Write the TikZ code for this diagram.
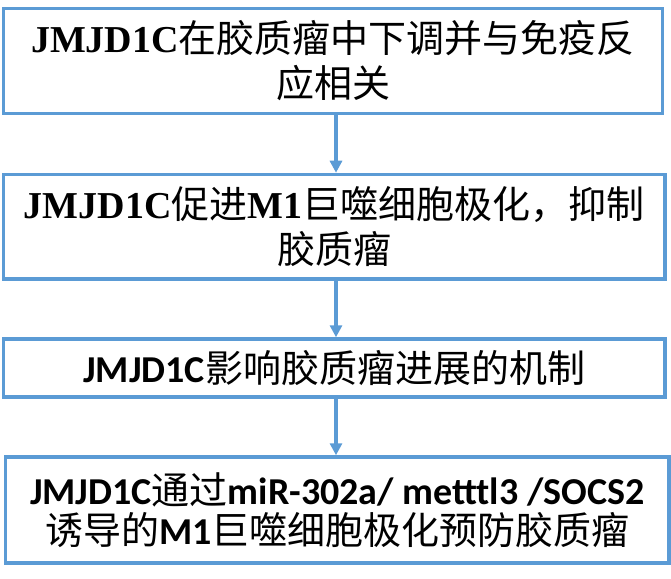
\documentclass[tikz,border=0pt]{standalone}
\usepackage{fontspec}
\usetikzlibrary{arrows.meta}
\newfontfamily\cjkf{Noto Sans CJK SC}
\newfontfamily\tmsf{Liberation Serif}
\newfontfamily\calf{Carlito}
\newcommand{\TB}[1]{{\tmsf\bfseries #1}}
\newcommand{\CB}[1]{{\calf\bfseries #1}}
\definecolor{boxblue}{RGB}{91,155,213}
\tikzset{
  flowbox/.style={draw=boxblue, line width=3.5bp, fill=white, inner sep=0pt,
    align=center, font=\cjkf\fontsize{38bp}{45bp}\selectfont},
  flowarrow/.style={draw=boxblue, line width=3.2bp, -{Triangle[length=12bp,width=12bp]}}
}
\begin{document}
\begin{tikzpicture}[x=1bp,y=-1bp]
\useasboundingbox (0,0) rectangle (671,579);
\coordinate (ax) at (336,0);
\node[flowbox, minimum width=659bp, minimum height=105bp] (b1) at (333,61)
  {\TB{JMJD1C}在胶质瘤中下调并与免疫反\\应相关};
\node[flowbox, minimum width=661.5bp, minimum height=104.5bp] (b2) at (334.25,226.75)
  {\TB{JMJD1C}促进\TB{M1}巨噬细胞极化，抑制\\胶质瘤};
\node[flowbox, minimum width=661.5bp, minimum height=58bp] (b3) at (334.25,368)
  {\CB{JMJD1C}影响胶质瘤进展的机制};
\node[flowbox, minimum width=663.5bp, minimum height=106bp,
  font=\cjkf\fontsize{38bp}{40bp}\selectfont] (b4) at (337.25,510)
  {\CB{JMJD1C}通过\CB{miR-302a/ metttl3 /SOCS2}\\诱导的\CB{M1}巨噬细胞极化预防胶质瘤};
\draw[flowarrow] (b1.south -| ax) -- (b2.north -| ax);
\draw[flowarrow] (b2.south -| ax) -- (b3.north -| ax);
\draw[flowarrow] (b3.south -| ax) -- (b4.north -| ax);
\end{tikzpicture}
\end{document}
